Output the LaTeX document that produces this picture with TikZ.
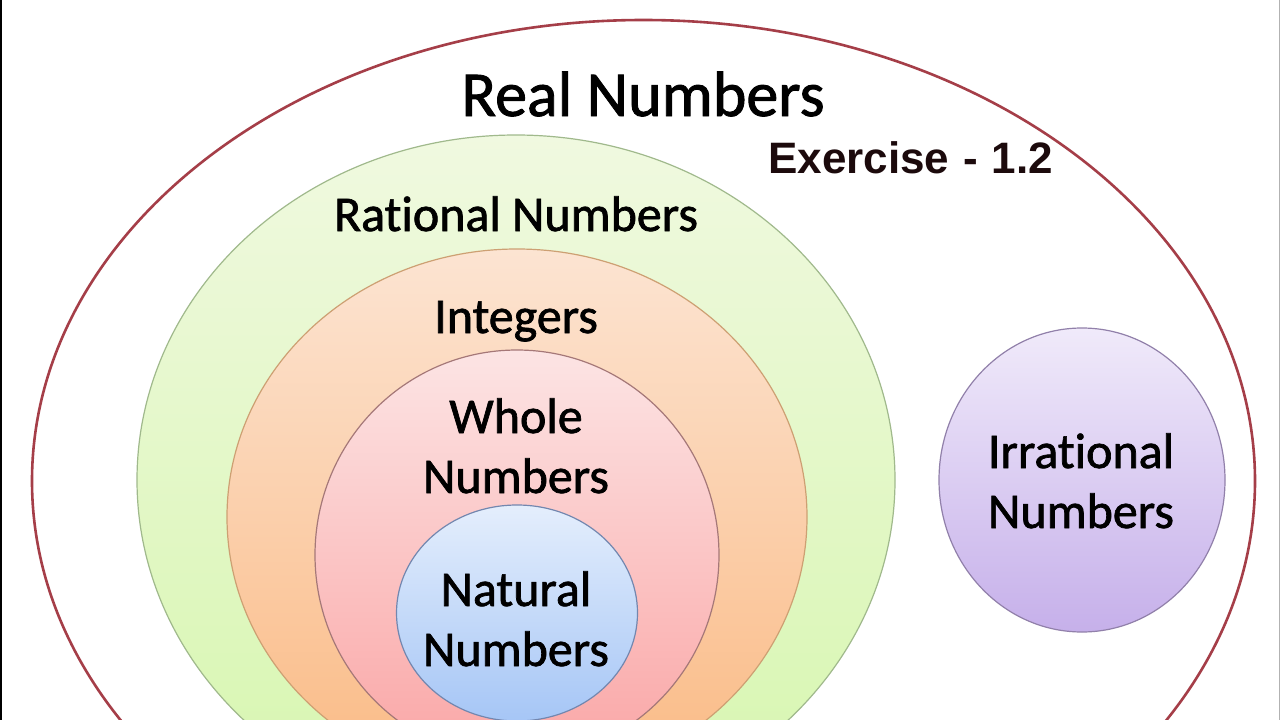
\documentclass[tikz,border=0pt]{standalone}
\usepackage{fontspec}
\setmainfont{Carlito}[FakeBold=1.4, RawFeature=-liga]
\newfontfamily\exfont{Liberation Sans}[RawFeature=-liga]
\usetikzlibrary{shapes.geometric}
\definecolor{outerline}{RGB}{165,62,72}
\definecolor{gtop}{RGB}{240,249,224}
\definecolor{gbot}{RGB}{214,246,174}
\definecolor{gline}{RGB}{160,185,140}
\definecolor{otop}{RGB}{252,228,210}
\definecolor{obot}{RGB}{250,186,132}
\definecolor{oline}{RGB}{205,160,115}
\definecolor{ptop}{RGB}{252,228,228}
\definecolor{pbot}{RGB}{250,166,166}
\definecolor{pline}{RGB}{165,120,120}
\definecolor{btop}{RGB}{228,238,252}
\definecolor{bbot}{RGB}{166,198,246}
\definecolor{bline}{RGB}{115,135,175}
\definecolor{vtop}{RGB}{240,234,250}
\definecolor{vbot}{RGB}{198,176,234}
\definecolor{vline}{RGB}{145,128,170}
\definecolor{extext}{RGB}{28,10,12}
\tikzset{
  setshape/.style={ellipse, inner sep=0pt, outer sep=0pt},
  lbl/.style={anchor=base, align=center, font=\fontsize{50}{60}\selectfont, text=black},
}
\begin{document}
\begin{tikzpicture}[x=1pt,y=-1pt]
\useasboundingbox (0,0) rectangle (1280,720);
\fill[white] (0,0) rectangle (1280,720);
\begin{scope}
\clip (0,0) rectangle (1280,720);
\node[setshape, draw=outerline, line width=2.6pt, fill=white,
  minimum width=1223pt, minimum height=922pt] (real) at (643.5,481) {};
\node[setshape, draw=gline, line width=1.2pt, top color=gtop, bottom color=gbot,
  minimum width=758pt, minimum height=690pt] (rat) at (516,480) {};
\node[setshape, draw=oline, line width=1.2pt, top color=otop, bottom color=obot,
  minimum width=580pt, minimum height=536pt] (int) at (517,517) {};
\node[setshape, draw=pline, line width=1.2pt, top color=ptop, bottom color=pbot,
  minimum width=404pt, minimum height=410pt] (whole) at (517,555) {};
\node[setshape, draw=bline, line width=1.2pt, top color=btop, bottom color=bbot,
  minimum width=241pt, minimum height=216pt] (nat) at (517,613) {};
\node[setshape, draw=vline, line width=1.2pt, top color=vtop, bottom color=vbot,
  minimum width=286pt, minimum height=304pt] (irr) at (1082,480) {};
\end{scope}
\draw[black, line width=1.6pt] (0.8,0) -- (0.8,720);
\draw[gray!60, line width=1pt] (1279.5,0) -- (1279.5,720);
\node[lbl, font=\fontsize{64}{72}\selectfont] (treal) at (643,116) {Real Numbers};
\node[anchor=base west, text=extext, font=\exfont\bfseries\fontsize{44}{48}\selectfont, inner sep=0pt] (tex) at (768,173) {Exercise\hspace{14pt}-\hspace{14pt}1.2};
\node[lbl] (trat) at (516,231) {Rational Numbers};
\node[lbl] (tint) at (516,333) {Integers};
\node[lbl] (twhole) at (516,433) {Whole};
\node[lbl] (twhole2) at (516,493) {Numbers};
\node[lbl] (tnat) at (516,606) {Natural};
\node[lbl] (tnat2) at (516,666) {Numbers};
\node[lbl] (tirr) at (1081,468) {Irrational};
\node[lbl] (tirr2) at (1081,528) {Numbers};
\end{tikzpicture}
\end{document}
